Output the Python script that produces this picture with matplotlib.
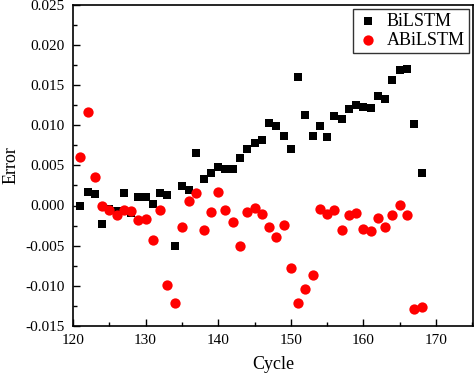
import matplotlib
matplotlib.use("Agg")
import matplotlib.pyplot as plt
from matplotlib.ticker import MultipleLocator, FormatStrFormatter

cycles = list(range(121, 169))
bilstm = [-0.0001, 0.0017, 0.0014, -0.0023, -0.0004, -0.0007, 0.0015, -0.0009,
          0.0010, 0.0010, 0.0002, 0.0015, 0.0013, -0.0051, 0.0024, 0.0019,
          0.0065, 0.0033, 0.0040, 0.0048, 0.0045, 0.0045, 0.0059, 0.0071,
          0.0078, 0.0082, 0.0103, 0.0099, 0.0086, 0.0071, 0.0160, 0.0113,
          0.0086, 0.0099, 0.0085, 0.0111, 0.0108, 0.0120, 0.0125, 0.0123,
          0.0121, 0.0136, 0.0133, 0.0156, 0.0169, 0.0170, 0.0102, 0.0041]
abilstm = [0.0061, 0.0116, 0.0035, 0.0000, -0.0006, -0.0012, -0.0006, -0.0007,
           -0.0018, -0.0017, -0.0043, -0.0006, -0.0099, -0.0122, -0.0027, 0.0006,
           0.0015, -0.0031, -0.0008, 0.0017, -0.0005, -0.0020, -0.0051, -0.0008,
           -0.0003, -0.0011, -0.0027, -0.0039, -0.0024, -0.0078, -0.0121, -0.0104,
           -0.0086, -0.0004, -0.0011, -0.0006, -0.0030, -0.0012, -0.0009, -0.0029,
           -0.0032, -0.0016, -0.0027, -0.0012, 0.0001, -0.0012, -0.0129, -0.0126]

plt.rcParams['font.family'] = ['Liberation Serif', 'DejaVu Serif']

fig = plt.figure(figsize=(4.74, 3.75), dpi=100)
ax = fig.add_axes([0.154, 0.131, 0.844, 0.856])

ax.scatter(cycles, bilstm, marker='s', s=40, color='black', label='BiLSTM', zorder=2, linewidths=0)
ax.scatter(cycles, abilstm, marker='o', s=55, color='#ff0000', label='ABiLSTM', zorder=3, linewidths=0)

ax.set_xlim(120, 175.1)
ax.set_ylim(-0.015, 0.025)
ax.xaxis.set_major_locator(MultipleLocator(10))
ax.xaxis.set_minor_locator(MultipleLocator(5))
ax.yaxis.set_major_locator(MultipleLocator(0.005))
ax.yaxis.set_minor_locator(MultipleLocator(0.0025))
ax.yaxis.set_major_formatter(FormatStrFormatter('%.3f'))
ax.tick_params(which='both', direction='in', labelsize=11, width=1)
ax.tick_params(which='major', length=5)
ax.tick_params(which='minor', length=3)
ax.tick_params(axis='x', pad=6)
ax.tick_params(axis='y', pad=6)
ax.set_xticks([120, 130, 140, 150, 160, 170])
for s in ax.spines.values():
    s.set_linewidth(1.2)

ax.set_xlabel('Cycle', fontsize=13, labelpad=6)
ax.set_ylabel('Error', fontsize=13, labelpad=4)

leg = ax.legend(loc='upper right', fontsize=13, frameon=True, fancybox=False,
                edgecolor='black', handletextpad=0.4, borderpad=0.2,
                labelspacing=0.12, borderaxespad=0.25, handlelength=1.3)
leg.get_frame().set_linewidth(1.0)

fig.savefig('out.png', dpi=100)
